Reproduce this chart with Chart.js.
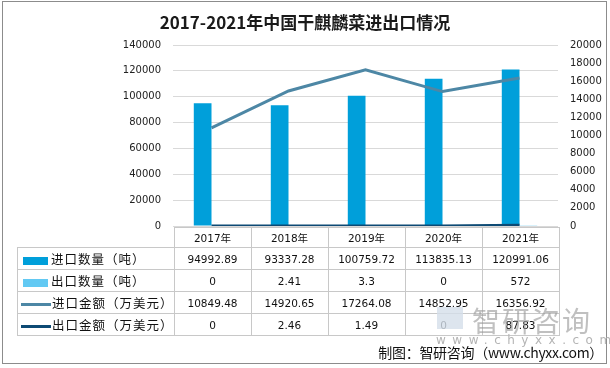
<!DOCTYPE html>
<html>
<head>
<meta charset="utf-8">
<script src="https://cdn.jsdelivr.net/npm/chart.js@4/dist/chart.umd.min.js"></script>
<style>
    body { margin: 0; background: #fff; }
    .wrap { position: relative; width: 610px; height: 368px; overflow: hidden; font-family: "DejaVu Sans", "Noto Sans CJK SC", sans-serif; }
    .frame { position: absolute; left: 2px; top: 1px; width: 603px; height: 361px; border: 1px solid #8c8c8c; }
    .title { position: absolute; left: 0; top: 10px; width: 610px; text-align: center; font: bold 17px "Noto Sans CJK SC", sans-serif; color: #1a1a1a; line-height: 24px; }
    canvas { position: absolute; left: 0; top: 0; }
    table { position: absolute; left: 17px; top: 227px; border-collapse: collapse; font-size: 10.5px; color: #111; }
    td { border: 1px solid #c8c8c8; height: 21px; padding: 0; text-align: center; width: 76px; }
    td.lab { width: 155px; text-align: left; font: 12.5px "Noto Sans CJK SC", sans-serif; letter-spacing: 1px; text-spacing-trim: space-all; white-space: nowrap; }
    tr.head td { height: 19px; font-family: "DejaVu Sans", "Noto Sans CJK SC", sans-serif; }
    tr.head td.lab { border: none; }
    .sw { display: inline-block; vertical-align: middle; }
    .bar { height: 8px; margin-left: 5px; margin-right: 3px; width: 25px; }
    .ln { height: 3px; margin-left: 3px; width: 30px; margin-right: 1px; }
    .wm-logo { position: absolute; left: 437px; top: 307px; width: 26px; height: 22px; background: #d5deea; opacity: 0.8; }
    .wm-big { position: absolute; left: 472px; top: 300px; font: 28px "Noto Sans CJK SC", sans-serif; white-space: nowrap; letter-spacing: 2px; color: rgba(150,150,150,0.6); }
    .wm-url { position: absolute; left: 436px; top: 334px; font: 12px "DejaVu Sans", sans-serif; letter-spacing: 6.5px; white-space: nowrap; color: #b4b4b4; line-height: 12px; }
    .foot { position: absolute; right: 7px; top: 342px; font: 14px "Noto Sans CJK SC", sans-serif; color: #111; white-space: nowrap; letter-spacing: -0.3px; }
</style>
</head>
<body>
<div class="wrap">
    <div class="frame"></div>
    <canvas id="chart" width="610" height="368"></canvas>
    <div class="title">2017-2021年中国干麒麟菜进出口情况</div>
    <table id="tbl"></table>
    <div class="wm-logo"></div>
    <div class="wm-big">智研咨询</div>
    <div class="wm-url">www.chyxx.com</div>
    <div class="foot">制图：智研咨询（www.chyxx.com）</div>
</div>
<script>
const years = ["2017年", "2018年", "2019年", "2020年", "2021年"];
const importQty = [94992.89, 93337.28, 100759.72, 113835.13, 120991.06];
const exportQty = [0, 2.41, 3.3, 0, 572];
const importAmt = [10849.48, 14920.65, 17264.08, 14852.95, 16356.92];
const exportAmt = [0, 2.46, 1.49, 0, 87.83];

const colors = {
    importQty: "#009fda",
    exportQty: "#62c9f3",
    importAmt: "#4d87a5",
    exportAmt: "#0d4a74",
};

const series = [
    { data: importQty, color: colors.importQty, label: "进口数量（吨）", type: "bar" },
    { data: exportQty, color: colors.exportQty, label: "出口数量（吨）", type: "bar" },
    { data: importAmt, color: colors.importAmt, label: "进口金额（万美元）", type: "line" },
    { data: exportAmt, color: colors.exportAmt, label: "出口金额（万美元）", type: "line" },
];

// data table under the plot
const tbl = document.getElementById("tbl");
let html = '<tr class="head"><td class="lab"></td>';
years.forEach(y => { html += "<td>" + y + "</td>"; });
html += "</tr>";
series.forEach(s => {
    const cls = s.type === "bar" ? "sw bar" : "sw ln";
    html += '<tr><td class="lab"><span class="' + cls + '" style="background:' + s.color + '"></span>' + s.label + "</td>";
    s.data.forEach(v => { html += "<td>" + String(v) + "</td>"; });
    html += "</tr>";
});
tbl.innerHTML = html;

const tickFont = { family: "DejaVu Sans", size: 10 };
const ctx = document.getElementById("chart").getContext("2d");
new Chart(ctx, {
    type: "bar",
    data: {
        labels: years,
        datasets: [
            { label: series[0].label, data: importQty, backgroundColor: colors.importQty, yAxisID: "y", order: 2 },
            { label: series[1].label, data: exportQty, backgroundColor: colors.exportQty, yAxisID: "y", order: 2 },
            {
                type: "line",
                label: series[2].label,
                data: importAmt,
                borderColor: colors.importAmt,
                borderWidth: 3,
                pointRadius: 0,
                yAxisID: "y1",
                order: 1,
            },
            {
                type: "line",
                label: series[3].label,
                data: exportAmt,
                borderColor: colors.exportAmt,
                borderWidth: 3,
                pointRadius: 0,
                yAxisID: "y1",
                order: 0,
            },
        ],
    },
    options: {
        responsive: false,
        animation: false,
        categoryPercentage: 0.46,
        barPercentage: 1,
        layout: { padding: { top: 45, bottom: 142, left: 0, right: 0 } },
        plugins: {
            legend: { display: false },
            tooltip: { enabled: false },
        },
        scales: {
            x: { display: false },
            y: {
                position: "left",
                min: 0,
                max: 140000,
                ticks: { stepSize: 20000, padding: 12, color: "#222", font: tickFont, callback: (v) => String(v) },
                grid: { color: "#d9d9d9", drawTicks: false },
                border: { display: false },
                afterFit: (scale) => { scale.width = 173; },
            },
            y1: {
                position: "right",
                min: 0,
                max: 20000,
                ticks: { stepSize: 2000, padding: 12, color: "#222", font: tickFont, callback: (v) => String(v) },
                grid: { display: false, drawTicks: false },
                border: { display: false },
                afterFit: (scale) => { scale.width = 52; },
            },
        },
    },
});
</script>
</body>
</html>
